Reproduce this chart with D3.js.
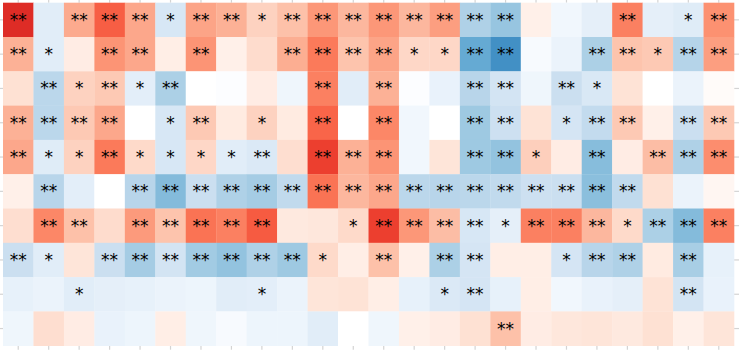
<!DOCTYPE html>
<html>
<head>
<meta charset="utf-8">
<script src="https://cdn.jsdelivr.net/npm/d3@7"></script>
<style>
  html, body { margin: 0; padding: 0; background: #ffffff; }
  svg { display: block; }
</style>
</head>
<body>
<svg id="chart" width="739" height="350"></svg>
<script>
// Column and row indices of the correlation grid
const columns = d3.range(24);
const rows = d3.range(10);

// Correlation coefficients, one array per row
const row0 = [0.68,-0.11,0.30,0.53,0.31,-0.16,0.32,0.28,0.17,0.23,0.36,0.26,0.36,0.26,0.34,-0.32,-0.39,0.03,-0.03,-0.09,0.43,-0.09,-0.12,0.38];
const row1 = [0.28,-0.11,0.05,0.37,0.31,0.04,0.37,0.03,0.13,0.29,0.45,0.22,0.32,0.15,0.15,-0.52,-0.63,-0.02,-0.06,-0.33,0.22,0.20,-0.30,0.34];
const row2 = [0.11,-0.28,0.17,0.20,-0.10,-0.33,0,-0.01,0.05,-0.04,0.43,-0.11,0.28,-0.01,-0.07,-0.29,-0.18,-0.04,-0.22,-0.15,0.10,0,-0.06,0.01];
const row3 = [0.28,-0.28,0.20,0.31,0,-0.16,0.20,0.06,0.17,0.06,0.51,0,0.41,-0.03,0,-0.37,-0.21,0.10,-0.17,-0.25,0.20,0.03,-0.22,0.20];
const row4 = [0.31,-0.12,0.17,0.45,0.14,-0.16,0.15,-0.11,-0.14,0.12,0.62,0.28,0.37,-0.03,0.09,-0.37,-0.40,0.18,0.05,-0.43,0.05,0.24,-0.32,0.39];
const row5 = [0.03,-0.29,-0.10,0,-0.29,-0.44,-0.22,-0.32,-0.35,-0.26,0.47,0.26,0.31,-0.28,-0.29,-0.28,-0.26,-0.21,-0.22,-0.42,-0.26,0.11,-0.06,0.02];
const row6 = [0.12,0.41,0.23,0.13,0.35,0.22,0.47,0.43,0.54,0.07,0.08,0.14,0.62,0.36,0.24,-0.16,-0.09,0.43,0.43,0.26,0.14,-0.33,-0.44,0.43];
const row7 = [-0.22,-0.11,0.09,-0.22,-0.35,-0.18,-0.36,-0.40,-0.32,-0.37,0.14,0.04,0.23,0.03,-0.33,-0.17,0.04,0.04,-0.17,-0.29,-0.32,0.06,-0.34,-0.08];
const row8 = [-0.08,-0.06,-0.11,-0.09,-0.08,-0.06,-0.05,-0.11,-0.10,-0.06,0.09,0.10,0.04,-0.08,-0.14,-0.17,-0.08,0.04,-0.03,-0.07,-0.09,0.10,-0.18,-0.07];
const row9 = [-0.04,0.12,0.05,-0.07,-0.05,0.04,-0.04,-0.02,-0.05,-0.05,-0.11,0,-0.04,0.03,0.05,0.11,0.23,0.05,0.08,0.09,0.07,0.11,0.03,0.09];

// Significance marks per row ("" none, "*" p<0.05, "**" p<0.01)
const sig0 = ["**","","**","**","**","*","**","**","*","**","**","**","**","**","**","**","**","","","","**","","*","**"];
const sig1 = ["**","*","","**","**","","**","","","**","**","**","**","*","*","**","**","","","**","**","*","**","**"];
const sig2 = ["","**","*","**","*","**","","","","","**","","**","","","**","**","","**","*","","","",""];
const sig3 = ["**","**","**","**","","*","**","","*","","**","","**","","","**","**","","*","**","**","","**","**"];
const sig4 = ["**","*","*","**","*","*","*","*","**","","**","**","**","","","**","**","*","","**","","**","**","**"];
const sig5 = ["","**","","","**","**","**","**","**","**","**","**","**","**","**","**","**","**","**","**","**","","",""];
const sig6 = ["","**","**","","**","**","**","**","**","","","*","**","**","**","**","*","**","**","**","*","**","**","**"];
const sig7 = ["**","*","","**","**","**","**","**","**","**","*","","**","","**","**","","","*","**","**","","**",""];
const sig8 = ["","","*","","","","","","*","","","","","","*","**","","","","","","","**",""];
const sig9 = ["","","","","","","","","","","","","","","","","**","","","","","","",""];

const values = [row0,row1,row2,row3,row4,row5,row6,row7,row8,row9];
const marks = [sig0,sig1,sig2,sig3,sig4,sig5,sig6,sig7,sig8,sig9];

const cells = [];
rows.forEach(r => columns.forEach(c => cells.push({r, c, v: values[r][c], s: marks[r][c]})));

const svg = d3.select("#chart");
const plot = {left: 3, right: 734, top: 2.7, bottom: 345.7};

const x = d3.scaleBand().domain(columns).range([plot.left, plot.right]).padding(0);
const y = d3.scaleBand().domain(rows).range([plot.top, plot.bottom]).padding(0);

// Diverging colour: blues below zero, reds above, white at zero
function color(v) {
  const a = Math.abs(v);
  const base = v >= 0 ? d3.interpolateReds(a) : d3.interpolateBlues(a);
  return d3.interpolateRgb("#ffffff", base)(Math.min(1, a / 0.03));
}

// Light grey ticks on all four sides at cell centres
const tickColor = "#d4d4d4";
function styleAxis(g) {
  g.select(".domain").remove();
  g.selectAll(".tick line").attr("stroke", tickColor).attr("stroke-width", 1.2);
  g.selectAll(".tick text").remove();
}
svg.append("g").attr("transform", `translate(0,${plot.top})`)
  .call(d3.axisTop(x).tickSize(3).tickFormat("")).call(styleAxis);
svg.append("g").attr("transform", `translate(0,${plot.bottom})`)
  .call(d3.axisBottom(x).tickSize(4).tickFormat("")).call(styleAxis);
svg.append("g").attr("transform", `translate(${plot.left},0)`)
  .call(d3.axisLeft(y).tickSize(3).tickFormat("")).call(styleAxis);
svg.append("g").attr("transform", `translate(${plot.right},0)`)
  .call(d3.axisRight(y).tickSize(5).tickFormat("")).call(styleAxis);

// Heatmap cells
svg.append("g").selectAll("rect")
  .data(cells)
  .join("rect")
  .attr("x", d => x(d.c))
  .attr("y", d => y(d.r))
  .attr("width", x.bandwidth() + 0.3)
  .attr("height", y.bandwidth() + 0.3)
  .attr("fill", d => color(d.v));

// Significance asterisks
svg.append("g").selectAll("text")
  .data(cells.filter(d => d.s))
  .join("text")
  .attr("x", d => x(d.c) + x.bandwidth() / 2)
  .attr("y", d => y(d.r) + y.bandwidth() / 2)
  .attr("text-anchor", "middle")
  .attr("dominant-baseline", "central")
  .attr("font-family", "DejaVu Sans, sans-serif")
  .attr("font-size", 17)
  .attr("fill", "#000")
  .text(d => d.s);
</script>
</body>
</html>
